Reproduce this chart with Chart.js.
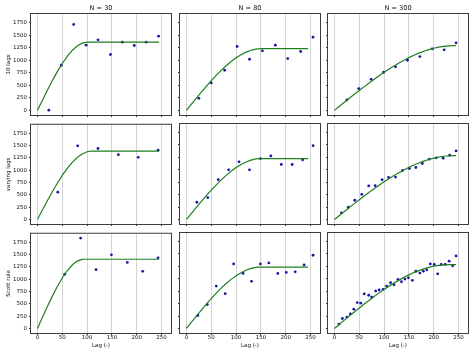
<!DOCTYPE html>
<html><head><meta charset="utf-8">
<script src="https://cdn.jsdelivr.net/npm/chart.js@4/dist/chart.umd.min.js"></script>
<style>
html,body{margin:0;padding:0;background:#fff;width:474px;height:355px;overflow:hidden;}
#wrap{position:relative;width:474px;height:355px;background:#fff;}
#wrap canvas{position:absolute;}
</style></head><body><div id="wrap"></div>
<script>
// ---- tick labels / titles ----
const xTicks = [0, 50, 100, 150, 200, 250];
const yTicks = [0, 250, 500, 750, 1000, 1250, 1500, 1750];
const colTitles = ['N = 30', 'N = 80', 'N = 300'];
const rowTitles = ['10 lags', 'varying lags', 'Scott rule'];
const xLabel = 'Lag (-)';

// ---- row 1: 10 lags ----
const lag_10_30 = [23, 48, 73, 98, 122, 147, 171, 195, 219, 244];
const gam_10_30 = [5, 900, 1714, 1300, 1408, 1114, 1360, 1294, 1360, 1480];
const fitLag_10_30 = [0, 10, 20, 30, 40, 50, 60, 70, 80, 90, 100, 245];
const fit_10_30 = [0, 203, 403, 594, 772, 935, 1077, 1195, 1284, 1340, 1360, 1360];

const lag_10_80 = [25, 50, 77, 102, 127, 153, 179, 204, 230, 255];
const gam_10_80 = [240, 548, 800, 1274, 1020, 1188, 1300, 1034, 1174, 1460];
const fitLag_10_80 = [0, 10, 20, 30, 40, 50, 60, 70, 80, 90, 100, 110, 120, 130, 140, 150, 245];
const fit_10_80 = [0, 123, 245, 364, 480, 592, 699, 799, 891, 974, 1048, 1110, 1161, 1199, 1222, 1230, 1230];

const lag_10_300 = [25, 49, 74, 99, 123, 147, 172, 197, 221, 245];
const gam_10_300 = [208, 434, 620, 760, 868, 1000, 1074, 1228, 1208, 1348];
const fitLag_10_300 = [0, 10, 20, 30, 40, 50, 60, 70, 80, 90, 100, 110, 120, 130, 140, 150, 160, 170, 180, 190, 200, 210, 220, 230, 240, 245];
const fit_10_300 = [0, 81, 161, 241, 320, 397, 474, 548, 621, 692, 760, 825, 887, 946, 1001, 1052, 1099, 1141, 1179, 1212, 1239, 1261, 1277, 1287, 1290, 1290];

// ---- row 2: varying lags ----
const lag_var_30 = [41, 81, 122, 163, 203, 243];
const gam_var_30 = [554, 1494, 1440, 1314, 1260, 1406];
const fitLag_var_30 = [0, 10, 20, 30, 40, 50, 60, 70, 80, 90, 100, 108, 245];
const fit_var_30 = [0, 192, 380, 562, 734, 893, 1035, 1158, 1257, 1330, 1374, 1385, 1385];

const lag_var_80 = [21, 43, 64, 85, 106, 127, 149, 170, 191, 213, 234, 255];
const gam_var_80 = [346, 440, 800, 1000, 1160, 1000, 1226, 1280, 1106, 1106, 1200, 1486];
const fitLag_var_80 = [0, 10, 20, 30, 40, 50, 60, 70, 80, 90, 100, 110, 120, 130, 140, 150, 245];
const fit_var_80 = [0, 122, 244, 363, 479, 590, 696, 796, 888, 971, 1045, 1107, 1157, 1195, 1218, 1226, 1226];

const lag_var_300 = [14, 28, 41, 55, 69, 82, 96, 109, 123, 137, 151, 164, 177, 191, 205, 219, 232, 245];
const gam_var_300 = [134, 246, 386, 506, 674, 680, 800, 846, 854, 986, 1026, 1046, 1126, 1214, 1240, 1234, 1294, 1380];
const fitLag_var_300 = [0, 10, 20, 30, 40, 50, 60, 70, 80, 90, 100, 110, 120, 130, 140, 150, 160, 170, 180, 190, 200, 210, 220, 230, 240, 245];
const fit_var_300 = [0, 81, 160, 240, 318, 396, 472, 546, 618, 689, 757, 822, 884, 942, 997, 1048, 1095, 1137, 1175, 1207, 1234, 1256, 1272, 1282, 1285, 1285];

// ---- row 3: Scott rule ----
const lag_sc_30 = [55, 87, 118, 149, 181, 212, 243];
const gam_sc_30 = [1100, 1834, 1194, 1494, 1340, 1160, 1434];
const fitLag_sc_30 = [0, 10, 20, 30, 40, 50, 60, 70, 80, 90, 93, 245];
const fit_sc_30 = [0, 226, 446, 656, 851, 1024, 1171, 1287, 1366, 1403, 1405, 1405];

const lag_sc_80 = [23, 42, 60, 78, 95, 114, 131, 149, 166, 184, 201, 219, 237, 255];
const gam_sc_80 = [260, 480, 854, 700, 1300, 1108, 948, 1300, 1320, 1108, 1128, 1140, 1280, 1474];
const fitLag_sc_80 = [0, 10, 20, 30, 40, 50, 60, 70, 80, 90, 100, 110, 120, 130, 140, 148, 245];
const fit_sc_80 = [0, 125, 249, 370, 488, 602, 710, 811, 904, 988, 1061, 1123, 1173, 1209, 1230, 1235, 1235];

const lag_sc_300 = [9, 16, 25, 32, 39, 46, 53, 60, 69, 75, 83, 90, 98, 105, 113, 120, 128, 135, 142, 149, 157, 164, 172, 179, 186, 193, 201, 208, 215, 223, 231, 238, 245];
const gam_sc_300 = [88, 200, 228, 294, 388, 520, 508, 694, 668, 628, 754, 774, 788, 854, 920, 880, 988, 940, 994, 1020, 968, 1154, 1114, 1154, 1180, 1300, 1288, 1100, 1288, 1288, 1354, 1260, 1460];
const fitLag_sc_300 = [0, 10, 20, 30, 40, 50, 60, 70, 80, 90, 100, 110, 120, 130, 140, 150, 160, 170, 180, 190, 200, 210, 220, 230, 245];
const fit_sc_300 = [0, 84, 167, 250, 332, 412, 491, 568, 643, 716, 785, 852, 914, 973, 1028, 1079, 1125, 1165, 1200, 1230, 1254, 1271, 1281, 1285, 1285];

// ---- layout (positions/styles, separate from data) ----
const FONT = 'DejaVu Sans';
const colLeft = [31, 180, 328];
const rowTop = [14, 123, 232];
const plotW = 141, plotH = 101;
const xMin = -13, xMax = 269, yMin = -92, yMax = 1922;

const panels = [
  [0, 0, lag_10_30, gam_10_30, fitLag_10_30, fit_10_30],
  [0, 1, lag_10_80, gam_10_80, fitLag_10_80, fit_10_80],
  [0, 2, lag_10_300, gam_10_300, fitLag_10_300, fit_10_300],
  [1, 0, lag_var_30, gam_var_30, fitLag_var_30, fit_var_30],
  [1, 1, lag_var_80, gam_var_80, fitLag_var_80, fit_var_80],
  [1, 2, lag_var_300, gam_var_300, fitLag_var_300, fit_var_300],
  [2, 0, lag_sc_30, gam_sc_30, fitLag_sc_30, fit_sc_30],
  [2, 1, lag_sc_80, gam_sc_80, fitLag_sc_80, fit_sc_80],
  [2, 2, lag_sc_300, gam_sc_300, fitLag_sc_300, fit_sc_300]
];

const frame = {
  id: 'frame',
  afterDraw(c) {
    const a = c.chartArea, ctx = c.ctx;
    ctx.save();
    ctx.strokeStyle = '#3c3c3c';
    ctx.lineWidth = 1;
    ctx.strokeRect(a.left - 0.5, a.top - 0.5, a.right - a.left + 1, a.bottom - a.top + 1);
    ctx.restore();
  }
};

const wrap = document.getElementById('wrap');
panels.forEach(([row, col, lags, vals, fx, fy]) => {
  const leftW = col === 0 ? 31 : 6;
  const topH = row === 0 ? 14 : 3;
  const bottomH = row === 2 ? 22 : 6;
  const rightPad = 3;
  const cv = document.createElement('canvas');
  cv.width = leftW + plotW + rightPad;
  cv.height = topH + plotH + bottomH;
  cv.style.left = (colLeft[col] - leftW) + 'px';
  cv.style.top = (rowTop[row] - topH) + 'px';
  cv.style.width = cv.width + 'px';
  cv.style.height = cv.height + 'px';
  wrap.appendChild(cv);
  const tickFont = { family: FONT, size: 5.5, lineHeight: 1 };
  new Chart(cv, {
    type: 'scatter',
    data: {
      datasets: [
        { data: fx.map((x, i) => ({ x: x, y: fy[i] })), showLine: true, borderColor: '#1f7f1f',
          borderWidth: 1.2, pointRadius: 0, tension: 0, order: 0 },
        { data: lags.map((x, i) => ({ x: x, y: vals[i] })), backgroundColor: '#1818a8',
          borderColor: '#1818a8', borderWidth: 0, pointRadius: 1.4, order: 1 }
      ]
    },
    options: {
      responsive: false, animation: false, devicePixelRatio: 1,
      events: [],
      layout: { padding: { top: row === 0 ? 0 : topH, right: rightPad, left: 0, bottom: 0 } },
      plugins: {
        legend: { display: false }, tooltip: { enabled: false },
        title: { display: row === 0, text: colTitles[col], fullSize: false, color: '#111',
          font: { family: FONT, size: 6.6, weight: 'normal', lineHeight: 1.2 },
          padding: { top: 4.6, bottom: 1.48 } }
      },
      scales: {
        x: {
          type: 'linear', position: 'bottom', min: xMin, max: xMax,
          afterBuildTicks: s => { s.ticks = xTicks.map(v => ({ value: v })); },
          afterFit: s => { s.height = bottomH; },
          ticks: { display: row === 2, font: tickFont, color: '#111', padding: 0, maxRotation: 0,
                   autoSkip: false, callback: v => String(v) },
          grid: { display: true, color: '#d4d4d4', lineWidth: 1, drawTicks: true, tickLength: 2,
                  tickColor: '#333', tickWidth: 1 },
          border: { display: false },
          title: { display: row === 2, text: xLabel, color: '#111', font: tickFont,
                   padding: { top: 0, bottom: 6.25 } }
        },
        y: {
          type: 'linear', position: 'left', min: yMin, max: yMax,
          afterBuildTicks: s => { s.ticks = yTicks.map(v => ({ value: v })); },
          afterFit: s => { s.width = leftW; },
          ticks: { display: col === 0, font: tickFont, color: '#111', padding: 2, autoSkip: false,
                   callback: v => String(v) },
          grid: { display: true, drawOnChartArea: false, drawTicks: true, tickLength: 2,
                  tickColor: '#333', tickWidth: 1 },
          border: { display: false },
          title: { display: col === 0, text: rowTitles[row], color: '#111', font: tickFont,
                   padding: { top: 6.25, bottom: 0 } }
        }
      }
    },
    plugins: [frame]
  });
});
</script>
</body></html>
